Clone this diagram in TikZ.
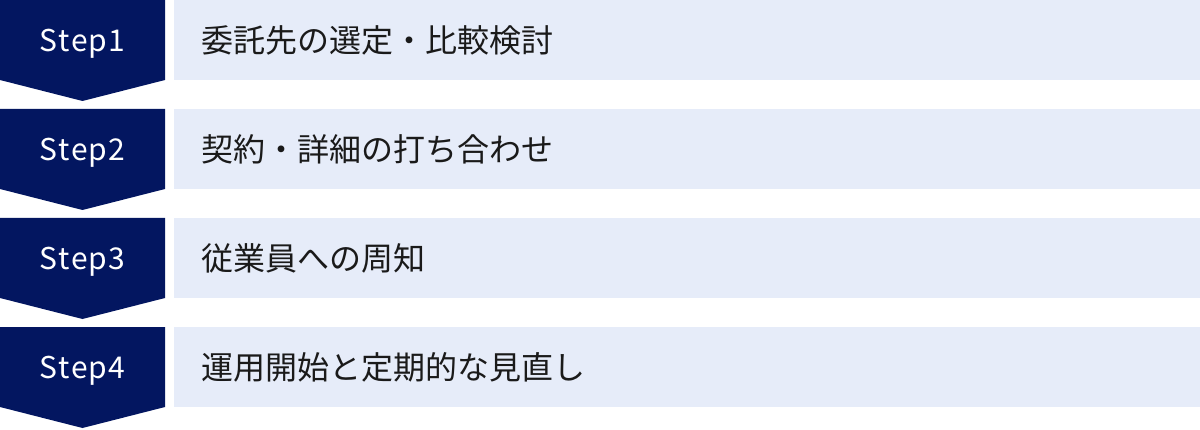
\documentclass[tikz,border=0pt]{standalone}
\usepackage{fontspec}
\setmainfont{Noto Sans CJK JP}
\definecolor{navy}{HTML}{031660}
\definecolor{pale}{HTML}{E6ECF9}
\definecolor{ink}{HTML}{1A1A1A}
\tikzset{
  stepshape/.style={fill=navy,draw=none},
  steplabel/.style={text=white,font=\fontsize{30}{30}\selectfont,anchor=base,inner sep=0pt},
  barbox/.style={fill=pale,draw=none,minimum width=1026pt,minimum height=80pt,anchor=north west,inner sep=0pt},
  bartext/.style={text=ink,font=\fontsize{32}{32}\selectfont,anchor=west,inner sep=0pt}
}
\begin{document}
\begin{tikzpicture}[x=1pt,y=1pt]
\useasboundingbox (0,0) rectangle (1200,429);
\foreach \i/\t in {0/委託先の選定・比較検討,1/契約・詳細の打ち合わせ,2/従業員への周知,3/運用開始と定期的な見直し}{
  \pgfmathsetmacro{\T}{429-109*\i}
  \pgfmathtruncatemacro{\n}{\i+1}
  \fill[stepshape] (0,\T) -- (165,\T) -- (165,\T-80) -- (82.5,\T-101) -- (0,\T-80) -- cycle;
  \node[steplabel] (step\n) at (82.5,\T-51.5) {S\kern1.2pt t\kern1.2pt e\kern1.2pt p\kern1.2pt\n};
  \node[barbox] (bar\n) at (174,\T) {};
  \node[bartext] (txt\n) at (201,\T-40) {\t};
}
\end{tikzpicture}
\end{document}
